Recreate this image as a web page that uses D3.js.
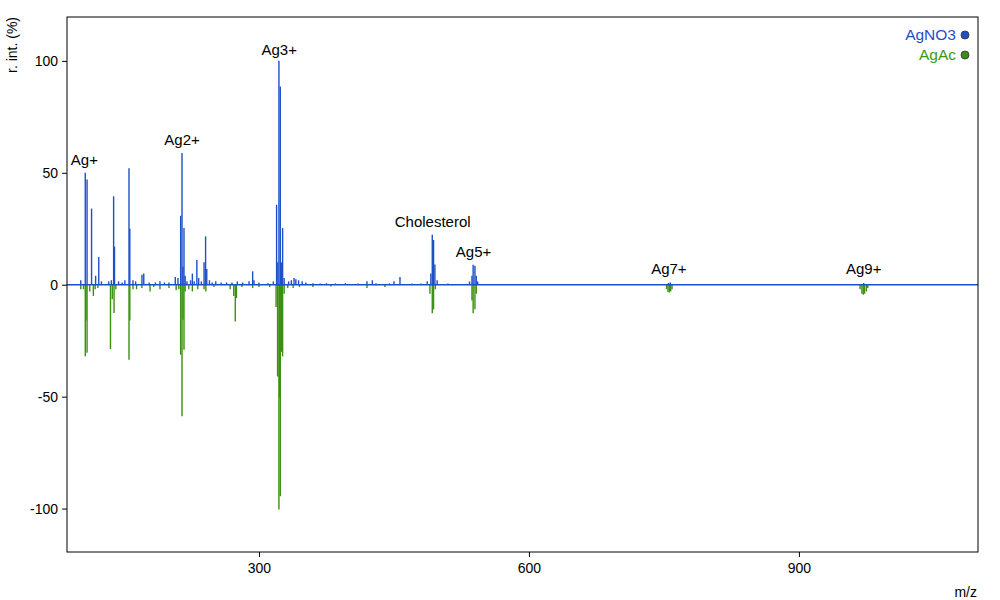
<!DOCTYPE html>
<html><head><meta charset="utf-8">
<script src="https://cdn.jsdelivr.net/npm/d3@7"></script>
<style>body{margin:0;background:#fff}text{font-family:"Liberation Sans",Arial,sans-serif}</style>
</head><body><svg id="c" width="1000" height="600"></svg>
<script>
// AgNO3 peaks (m/z, relative intensity %)
const agno3Mz = [102,107,109,114,118.5,122,125,133,136,138.5,139.5,144,148,151,155.6,156.5,160,163,170,172,178,185,190,195,200,207,210,213,214.5,215.5,216.7,218,220,224,226,228,231,233,236,239,240.7,242,245,248,252,258,264,270,276,282,289,293,294.5,300,310,316,319.6,321,322.2,323.7,325,326.3,328,333,336,339,341,344,348,352,360,368,375,385,396,410,420,426,430,445,450,456.7,470,480,487,491,492.6,494,495.5,498,510,534,536.7,538,540,541.5,543,755,757,972];
const agno3Int = [2,50,47,34,4,12.4,1.5,1.5,2,39.5,17,1.5,1,2,52,25,2,1.5,4.5,5,1,1,1.5,1,1,3.5,3,30.8,58.8,8,25.3,4,1.5,2,5,1.5,11,3,1.5,10,21.6,7,2,1,1.5,1,1,1,1.5,1,1.5,6,2,1,0.7,1.5,35.7,10,100,88.5,10,25.3,3,1.5,2,3,2.5,2,1.5,1,0.7,0.6,0.7,0.6,0.7,0.6,1.5,2,0.7,0.6,1.5,3.4,0.6,0.6,1.5,5,22.3,20,9,2,0.5,1.5,4,8.9,8.5,4,1.5,0.8,1,0.8];
// AgAc peaks (mirrored, negative)
const agacMz = [102,105,107,107.8,109,112,116,118,121,135,137,139,141,155.6,156.5,160,164,170,179,183,190,200,208,211,213,214.5,215.5,216.7,218,222,226,232,239,241,250,268,272,273.7,275,281,293,300,312,319,320.7,322.2,323,323.7,325,326.3,328,332,338,345,360,380,420,440,490,492.6,494,496,536.7,538,540,541.5,753,754.5,756,757.5,759,968,970,971.5,973,975,976.5];
const agacInt = [-2,-2,-32,-16,-30.4,-3,-5,-2,-1.5,-28.7,-6.5,-12.6,-2,-33.5,-16,-2,-2,-1.5,-3,-1,-2,-1.5,-2.5,-2,-31.3,-58.8,-15.6,-29,-3,-2,-3,-2,-2,-3,-1,-2,-5,-16.4,-6,-1,-1.5,-1,-1,-10,-41,-100.4,-50.4,-94.5,-30,-32,-4,-1.5,-1.5,-1,-1,-0.8,-1.5,-1,-4,-12.7,-11,-2,-7,-12.7,-11,-4,-2,-3.3,-3.5,-3,-2,-2,-4,-4.5,-4,-3,-1.5];
// annotations
const labelText = ["Ag+","Ag2+","Ag3+","Cholesterol","Ag5+","Ag7+","Ag9+"];
const labelMz = [106,214.5,322.5,493,538.5,755.5,972];
const labelInt = [50,58.8,100,22.3,8.9,1,1];
const xTicks = [300,600,900];
const yTicks = [-100,-50,0,50,100];
const seriesNames = ["AgNO3","AgAc"];

const blue = "#1c4fc8", green = "#3a9010";
const svg = d3.select("#c");
const L=67,R=978,T=17,B=552;
const x = d3.scaleLinear().domain([86.7,1099]).range([L,R]);
const y = d3.scaleLinear().domain([-119.4,119.6]).range([B,T]);

const g = svg.append("g");
svg.append("clipPath").attr("id","cp").append("rect").attr("x",L).attr("y",T).attr("width",R-L).attr("height",B-T);
const pg = g.append("g").attr("clip-path","url(#cp)");

pg.selectAll("line.a").data(agacMz).enter().append("line")
  .attr("x1",d=>x(d)).attr("x2",d=>x(d)).attr("y1",y(0)).attr("y2",(d,i)=>y(agacInt[i]))
  .attr("stroke",green).attr("stroke-width",1.4);
pg.selectAll("line.b").data(agno3Mz).enter().append("line")
  .attr("x1",d=>x(d)).attr("x2",d=>x(d)).attr("y1",y(0)).attr("y2",(d,i)=>y(agno3Int[i]))
  .attr("stroke",blue).attr("stroke-width",1.4);
pg.append("line").attr("x1",L).attr("x2",R).attr("y1",y(0)).attr("y2",y(0)).attr("stroke",blue).attr("stroke-width",1.5);

// frame
g.append("rect").attr("x",L).attr("y",T).attr("width",R-L).attr("height",B-T).attr("fill","none").attr("stroke","#000").attr("stroke-width",1);

// axes
const fmt = d=>String(d);
const xa = g.append("g").attr("transform",`translate(0,${B})`).call(d3.axisBottom(x).tickValues(xTicks).tickFormat(fmt).tickSize(5).tickPadding(6));
const ya = g.append("g").attr("transform",`translate(${L},0)`).call(d3.axisLeft(y).tickValues(yTicks).tickFormat(fmt).tickSize(5).tickPadding(4));
[xa,ya].forEach(a=>{a.select(".domain").remove();a.selectAll("text").attr("font-size",14).attr("fill","#000").style("font-family","'Liberation Sans',Arial,sans-serif");a.selectAll("line").attr("stroke","#000");});

// axis titles
g.append("text").attr("x",977).attr("y",597).attr("text-anchor","end").attr("font-size",14).text("m/z");
g.append("text").attr("transform","translate(17,45) rotate(-90)").attr("text-anchor","middle").attr("font-size",14).text("r. int. (%)");

// annotations
g.selectAll("text.lab").data(labelText).enter().append("text")
  .attr("x",(d,i)=>x(labelMz[i])).attr("y",(d,i)=>y(labelInt[i])-(i===2?6:8))
  .attr("text-anchor","middle").attr("font-size",15).attr("fill","#000").text(d=>d);

// legend
const cols=[blue,green], tcols=["#1c4fc8","#3a9a10"];
seriesNames.forEach((n,i)=>{
  g.append("text").attr("x",956).attr("y",40+i*20).attr("text-anchor","end").attr("font-size",15.5).attr("fill",tcols[i]).text(n);
  g.append("circle").attr("cx",965).attr("cy",35+i*20).attr("r",4).attr("fill",cols[i]).attr("stroke","#333").attr("stroke-width",0.8);
});
</script></body></html>
